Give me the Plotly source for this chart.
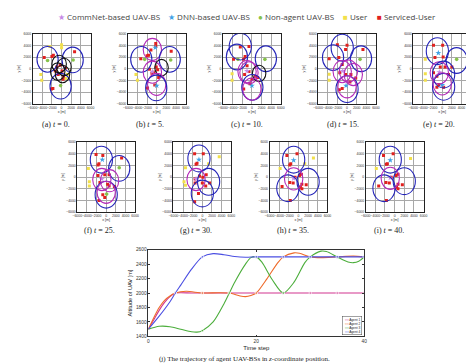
import plotly.graph_objects as go

W, H = 474, 363

# ---------------- data ----------------
PANEL_LABELS = ["(a)", "(b)", "(c)", "(d)", "(e)", "(f)", "(g)", "(h)", "(i)"]
PANEL_T = [0, 5, 10, 15, 20, 25, 30, 35, 40]

# coverage circles of UAV-BSs (centre x, centre y, radius) per panel [m]
CIRCLE_X = [
    [-2900, 2300, -200, -500, 500, -800, 200],
    [-900, -3200, 2700, -900, 1000, 0, -100],
    [-2400, -3100, 2900, -1000, -600, 1500, 100, 0],
    [-1000, -2900, 2900, -1000, 300, 1300, 0, 0],
    [-1000, 3000, -600, 300, 300, 0],
    [-1000, 2700, -900, 700, 0, 0],
    [-700, 1300, -1300, 0],
    [-1000, 2000, -2200, -1000],
    [-900, 2000, -2200, -900],
]
CIRCLE_Y = [
    [1600, 1500, -3000, 800, 300, -500, -900],
    [3300, 1600, 1600, -600, 200, -2700, -3300],
    [3800, 2000, 1700, -500, -700, -800, -3200, -3500],
    [3600, 1900, 1700, -500, -400, -1000, -3500, -3100],
    [3000, 1400, -700, -1000, -3100, -2600],
    [3000, 1500, -400, -600, -3000, -2600],
    [3200, -800, -400, -2800],
    [3000, -800, -1900, -300],
    [3000, -700, -1900, -200],
]
CIRCLE_R = [
    [2200, 2200, 2200, 1500, 1500, 1500, 1500],
    [1900, 2200, 2200, 1900, 1400, 1900, 2200],
    [2300, 2200, 2200, 1900, 1900, 1400, 2200, 1900],
    [2300, 2200, 2200, 1900, 1900, 1900, 2300, 1900],
    [2300, 2200, 1900, 2300, 2300, 1900],
    [2300, 2200, 1900, 1900, 2300, 1900],
    [2300, 2300, 1900, 2300],
    [2300, 2300, 2300, 1900],
    [2300, 2300, 2300, 1900],
]

# non-agent UAV-BS
GREEN_X = [[-2900, 2400, -200], [-2500, 2900], [-2900, 2700], [2700], [3000], [2700, 100], [], [], []]
GREEN_Y = [[1400, 1500, -2900], [1600, 1500], [1600, 1600], [1600], [1600], [1600, -2900], [], [], []]

# DNN-based UAV-BS
DNN_X = [[], [-300, 0], [0], [-200], [-800, 0], [-800], [-700], [-1000], [-900]]
DNN_Y = [[], [3600, -2900], [-2900], [-2900], [2700, -2800], [3000], [3000], [2900], [2900]]

# CommNet-based UAV-BS
COMM_X = [[], [-900], [-1000], [-900], [-600], [-900], [-1300], [-1000], [-900]]
COMM_Y = [[], [-500], [-400], [-400], [-600], [-300], [-300], [-200], [-100]]

# serviced users
SERV_X = [
    [-3600, -2000, -1700, 2700, -1300, -700, 100, -1800, -2100, -300, 400, 800, -1000, 300],
    [-3300, -2000, -1700, 3000, -200, -200, -1200, -100, -1000, 200, -1500, -1900, 400, -400, -600],
    [-2400, -600, -3800, -1700, -1400, -1000, -600, -1500, 700, 0, -1700, -400, 1200],
    [-2000, 0, -3700, -1700, -300, 3300, -1000, -1500, -300, 800, 1800, -1000, -1600, 600],
    [-1800, 100, -1500, 200, -1800, -1100, -400, 600, 2000, 1300, -700, -1100, 300],
    [-2100, -700, -1700, -1500, 3200, -1700, -300, 600, -1300, 600, 1700, -700, -1500, -300, 300],
    [-1600, 200, -1300, -1100, -1500, -600, 100, 800, -1500, 700, 1500, -800, -1600, 0],
    [-2400, -300, -1800, -1600, 200, 600, -700, -1800, -3400, -1100, 700, 1600, -1700, 700, 400],
    [-2300, -300, -1700, -1500, 300, 700, -700, -1800, -3300, -1100, 700, 1600, -1700, 700, 400],
]
SERV_Y = [
    [1900, 2100, 2300, 2900, -400, -1000, -400, -3400, -3500, 600, -1300, 100, 300, -1800],
    [1700, 2200, 2300, 3000, 4300, 3800, 3200, 300, -800, -200, -100, -3300, -1500, -2800, -600],
    [3700, 3800, 1600, 1600, 2100, 500, -500, -1000, -1300, -1800, -3500, -2600, -1500],
    [4100, 4000, 1700, 1900, 3300, 3300, 700, -700, -1000, -1000, -1600, -3400, -3600, -2300],
    [4000, 4000, 1900, 2000, -700, -1300, 300, 300, 300, -1000, -2700, -3200, -3200],
    [3900, 3700, 2100, 2300, 3300, 300, 400, 400, -900, -1500, -1600, -3000, -4000, -3500, -1200],
    [4000, 4000, 2200, 2400, -300, 200, 0, 400, -1000, -1500, -1000, -2800, -4200, -1000],
    [3700, 4000, 2100, 2300, 300, 500, 0, -900, -1600, -1000, -1200, -1300, -4000, -2000, -1700],
    [3700, 4000, 2200, 2300, 300, 500, 0, -900, -1500, -1000, -1200, -1300, -4000, -2000, -1700],
]

# users not serviced
USER_X = [
    [-2400, 0, 0, -4300, -4100, 1200, 900],
    [-4000, -4300, 900],
    [-4100, -4100],
    [-3700, -3700],
    [-3500, -3500, -3500],
    [-3700, -3500, -3500],
    [-3500, -3800, -3500, 1300, 3500],
    [-3800, 3100, 1300],
    [-3800, 3300],
]
USER_Y = [
    [3800, 4100, 3600, -1000, -2000, -1000, -1700],
    [-2000, -1000, -1300],
    [-850, -2000],
    [-950, -2000],
    [1600, -850, -2000],
    [1500, -800, -1500],
    [1600, -800, -1400, 2300, 3500],
    [1500, 3300, 2300],
    [1500, 3200],
]

# altitude trajectories (z-coordinate) of agent UAV-BSs
AGENT_NAMES = ["Agent 1", "Agent 2", "Agent 3", "Agent 4"]
AGENT1_T = [0, 1, 2, 3, 4, 5, 6, 8, 10, 15, 20, 25, 30, 35, 40]
AGENT1_Z = [1500, 1630, 1760, 1870, 1950, 2000, 2005, 2000, 2000, 2000, 2000, 2000, 2000, 2000, 2000]
AGENT2_T = [0, 1, 2, 3, 4, 5, 7, 10, 13, 15, 17, 18, 19, 20, 22, 24, 25, 27, 28, 30, 32, 35, 38, 40]
AGENT2_Z = [1500, 1660, 1800, 1900, 1960, 2000, 2025, 2000, 2005, 2000, 1960, 1950, 1965, 2000,
            2200, 2420, 2500, 2555, 2550, 2500, 2490, 2500, 2510, 2500]
AGENT3_T = [0, 2, 4, 6, 8, 9, 10, 12, 14, 15, 16, 18, 19, 20, 21, 23, 25, 27, 29, 30, 32, 33, 35,
            37, 38, 39, 40]
AGENT3_Z = [1500, 1540, 1535, 1500, 1465, 1460, 1480, 1600, 1850, 2000, 2150, 2400, 2490, 2500,
            2430, 2180, 2000, 2150, 2420, 2500, 2580, 2575, 2500, 2430, 2420, 2440, 2500]
AGENT4_T = [0, 2, 4, 5, 6, 8, 10, 12, 14, 16, 18, 20, 25, 30, 35, 40]
AGENT4_Z = [1500, 1680, 1880, 2000, 2110, 2330, 2500, 2545, 2530, 2505, 2495, 2500, 2500, 2500,
            2500, 2500]

LEGEND_LABELS = ["CommNet-based UAV-BS", "DNN-based UAV-BS", "Non-agent UAV-BS", "User", "Serviced-User"]

# ---------------- style ----------------
C_COMM = "#c68be6"
C_DNN = "#3fa3e6"
C_GREEN = "#86c24a"
C_USER = "#f2e04a"
C_SERV = "#e0201e"
AGENT_COLORS = ["#d2358f", "#ee6a2a", "#4cae3c", "#4b4fe2"]


def circle_color(r):
    if r >= 2200:
        return "#2424b8"
    if r >= 1800:
        return "#b32ab8"
    return "#111111"


ROW1_CX = [49.5, 146.5, 243.5, 340.5, 437.5]
ROW2_CX = [95, 193, 291, 389]
PW = 59
ROW1_Y = (24, 95)
ROW2_Y = (134, 205)
CAP1 = [44, 140, 239, 336, 434]
CAP2 = [88, 187, 285, 383]


def px_x(p):
    return p / W


def px_y(p):
    return 1 - p / H


fig = go.Figure()
layout = dict(
    width=W, height=H, margin=dict(l=0, r=0, t=0, b=0),
    paper_bgcolor="white", plot_bgcolor="white", showlegend=False,
    font=dict(family="Liberation Sans", color="#333"),
)
shapes = []
annotations = []

for i in range(9):
    n = i + 1
    if i < 5:
        cx = ROW1_CX[i]
        ys = ROW1_Y
        capx, capy = CAP1[i], 116
    else:
        cx = ROW2_CX[i - 5]
        ys = ROW2_Y
        capx, capy = CAP2[i - 5], 224
    xk = "xaxis" if n == 1 else f"xaxis{n}"
    yk = "yaxis" if n == 1 else f"yaxis{n}"
    xr = "x" if n == 1 else f"x{n}"
    yr = "y" if n == 1 else f"y{n}"
    common = dict(
        range=[-6000, 6000], dtick=2000, tick0=0, tickformat="d", tickangle=0,
        showgrid=True, gridcolor="#a8a8a8", gridwidth=0.6, zeroline=False,
        showline=True, mirror=True, linecolor="#222", linewidth=0.7,
        ticks="", tickfont=dict(size=3.4, color="#333"),
    )
    layout[xk] = dict(common, domain=[px_x(cx - PW / 2), px_x(cx + PW / 2)], anchor=yr,
                      title=dict(text="x [m]", font=dict(size=3.6), standoff=1))
    layout[yk] = dict(common, domain=[px_y(ys[1]), px_y(ys[0])], anchor=xr,
                      title=dict(text="y [m]", font=dict(size=3.6), standoff=1))

    for x0, y0, r in zip(CIRCLE_X[i], CIRCLE_Y[i], CIRCLE_R[i]):
        shapes.append(dict(type="circle", xref=xr, yref=yr, x0=x0 - r, x1=x0 + r,
                           y0=y0 - r, y1=y0 + r, line=dict(color=circle_color(r), width=1.1)))

    fig.add_trace(go.Scatter(x=USER_X[i], y=USER_Y[i], mode="markers", xaxis=xr, yaxis=yr,
                             marker=dict(symbol="square", size=3, color=C_USER), name="User"))
    fig.add_trace(go.Scatter(x=SERV_X[i], y=SERV_Y[i], mode="markers", xaxis=xr, yaxis=yr,
                             marker=dict(symbol="square", size=3, color=C_SERV), name="Serviced-User"))
    fig.add_trace(go.Scatter(x=GREEN_X[i], y=GREEN_Y[i], mode="markers", xaxis=xr, yaxis=yr,
                             marker=dict(symbol="circle", size=3.6, color=C_GREEN), name="Non-agent UAV-BS"))
    fig.add_trace(go.Scatter(x=DNN_X[i], y=DNN_Y[i], mode="markers", xaxis=xr, yaxis=yr,
                             marker=dict(symbol="star", size=4.5, color=C_DNN), name="DNN-based UAV-BS"))
    fig.add_trace(go.Scatter(x=COMM_X[i], y=COMM_Y[i], mode="markers", xaxis=xr, yaxis=yr,
                             marker=dict(symbol="star", size=4.5, color=C_COMM), name="CommNet-based UAV-BS"))

    annotations.append(dict(
        xref="paper", yref="paper", x=px_x(capx), y=px_y(capy), showarrow=False,
        text=f"{PANEL_LABELS[i]} <i>t</i> = {PANEL_T[i]}.",
        font=dict(family="Liberation Serif", size=8, color="#222"),
        xanchor="center", yanchor="middle"))

# ---- altitude line chart ----
agents = [(AGENT1_T, AGENT1_Z), (AGENT2_T, AGENT2_Z), (AGENT3_T, AGENT3_Z), (AGENT4_T, AGENT4_Z)]
for k, (tt, zz) in enumerate(agents):
    fig.add_trace(go.Scatter(
        x=tt, y=zz, mode="lines+markers", xaxis="x10", yaxis="y10", name=AGENT_NAMES[k],
        line=dict(color=AGENT_COLORS[k], width=1.1, shape="spline", smoothing=0.8),
        marker=dict(size=[2.5 if t % 5 == 0 and t > 0 else 0 for t in tt], color=AGENT_COLORS[k],
                    symbol="circle")))

layout["xaxis10"] = dict(
    domain=[px_x(138), px_x(358)], anchor="y10", range=[0, 40], dtick=20, tick0=0,
    showgrid=False, zeroline=False, showline=True, mirror="ticks", linecolor="#333", linewidth=0.7,
    ticks="inside", ticklen=2, tickwidth=0.6, tickcolor="#333",
    tickfont=dict(size=4.8, color="#333"),
    title=dict(text="Time step", font=dict(size=6, color="#222"), standoff=2))
layout["yaxis10"] = dict(
    domain=[px_y(331), px_y(243)], anchor="x10", range=[1400, 2600], dtick=200, tick0=1400,
    showgrid=False, zeroline=False, showline=True, mirror="ticks", linecolor="#333", linewidth=0.7,
    ticks="inside", ticklen=2, tickwidth=0.6, tickcolor="#333",
    tickfont=dict(size=4.8, color="#333"),
    title=dict(text="Altitude of UAV [m]", font=dict(size=5.6, color="#222"), standoff=2))

# line-chart legend
leg_lines = "<br>".join(
    f"<span style='color:{AGENT_COLORS[k]}'>━━</span> {AGENT_NAMES[k]}" for k in range(4))
annotations.append(dict(
    xref="paper", yref="paper", x=px_x(356), y=px_y(330), xanchor="right", yanchor="bottom",
    showarrow=False, align="left", text=leg_lines,
    font=dict(size=3.2, color="#222"), bgcolor="white", bordercolor="#444", borderwidth=0.5,
    borderpad=1))

annotations.append(dict(
    xref="paper", yref="paper", x=px_x(236), y=px_y(354), showarrow=False,
    text="(j) The trajectory of agent UAV-BSs in <i>z</i>-coordinate position.",
    font=dict(family="Liberation Serif", size=7, color="#222"), xanchor="center", yanchor="middle"))

# top legend
leg_syms = [("★", C_COMM), ("★", C_DNN), ("●", C_GREEN), ("■", C_USER), ("■", C_SERV)]
leg_x = [44, 156, 248, 334, 369]
for (sym, col), lab, lx in zip(leg_syms, LEGEND_LABELS, leg_x):
    annotations.append(dict(
        xref="paper", yref="paper", x=px_x(lx), y=px_y(7), xanchor="left", yanchor="middle",
        showarrow=False, text=f"<span style='color:{col}'>{sym}</span> {lab}",
        font=dict(family="Open Sans", size=8, color="#444")))

layout["shapes"] = shapes
layout["annotations"] = annotations
fig.update_layout(**layout)
fig.write_html("out.html")
